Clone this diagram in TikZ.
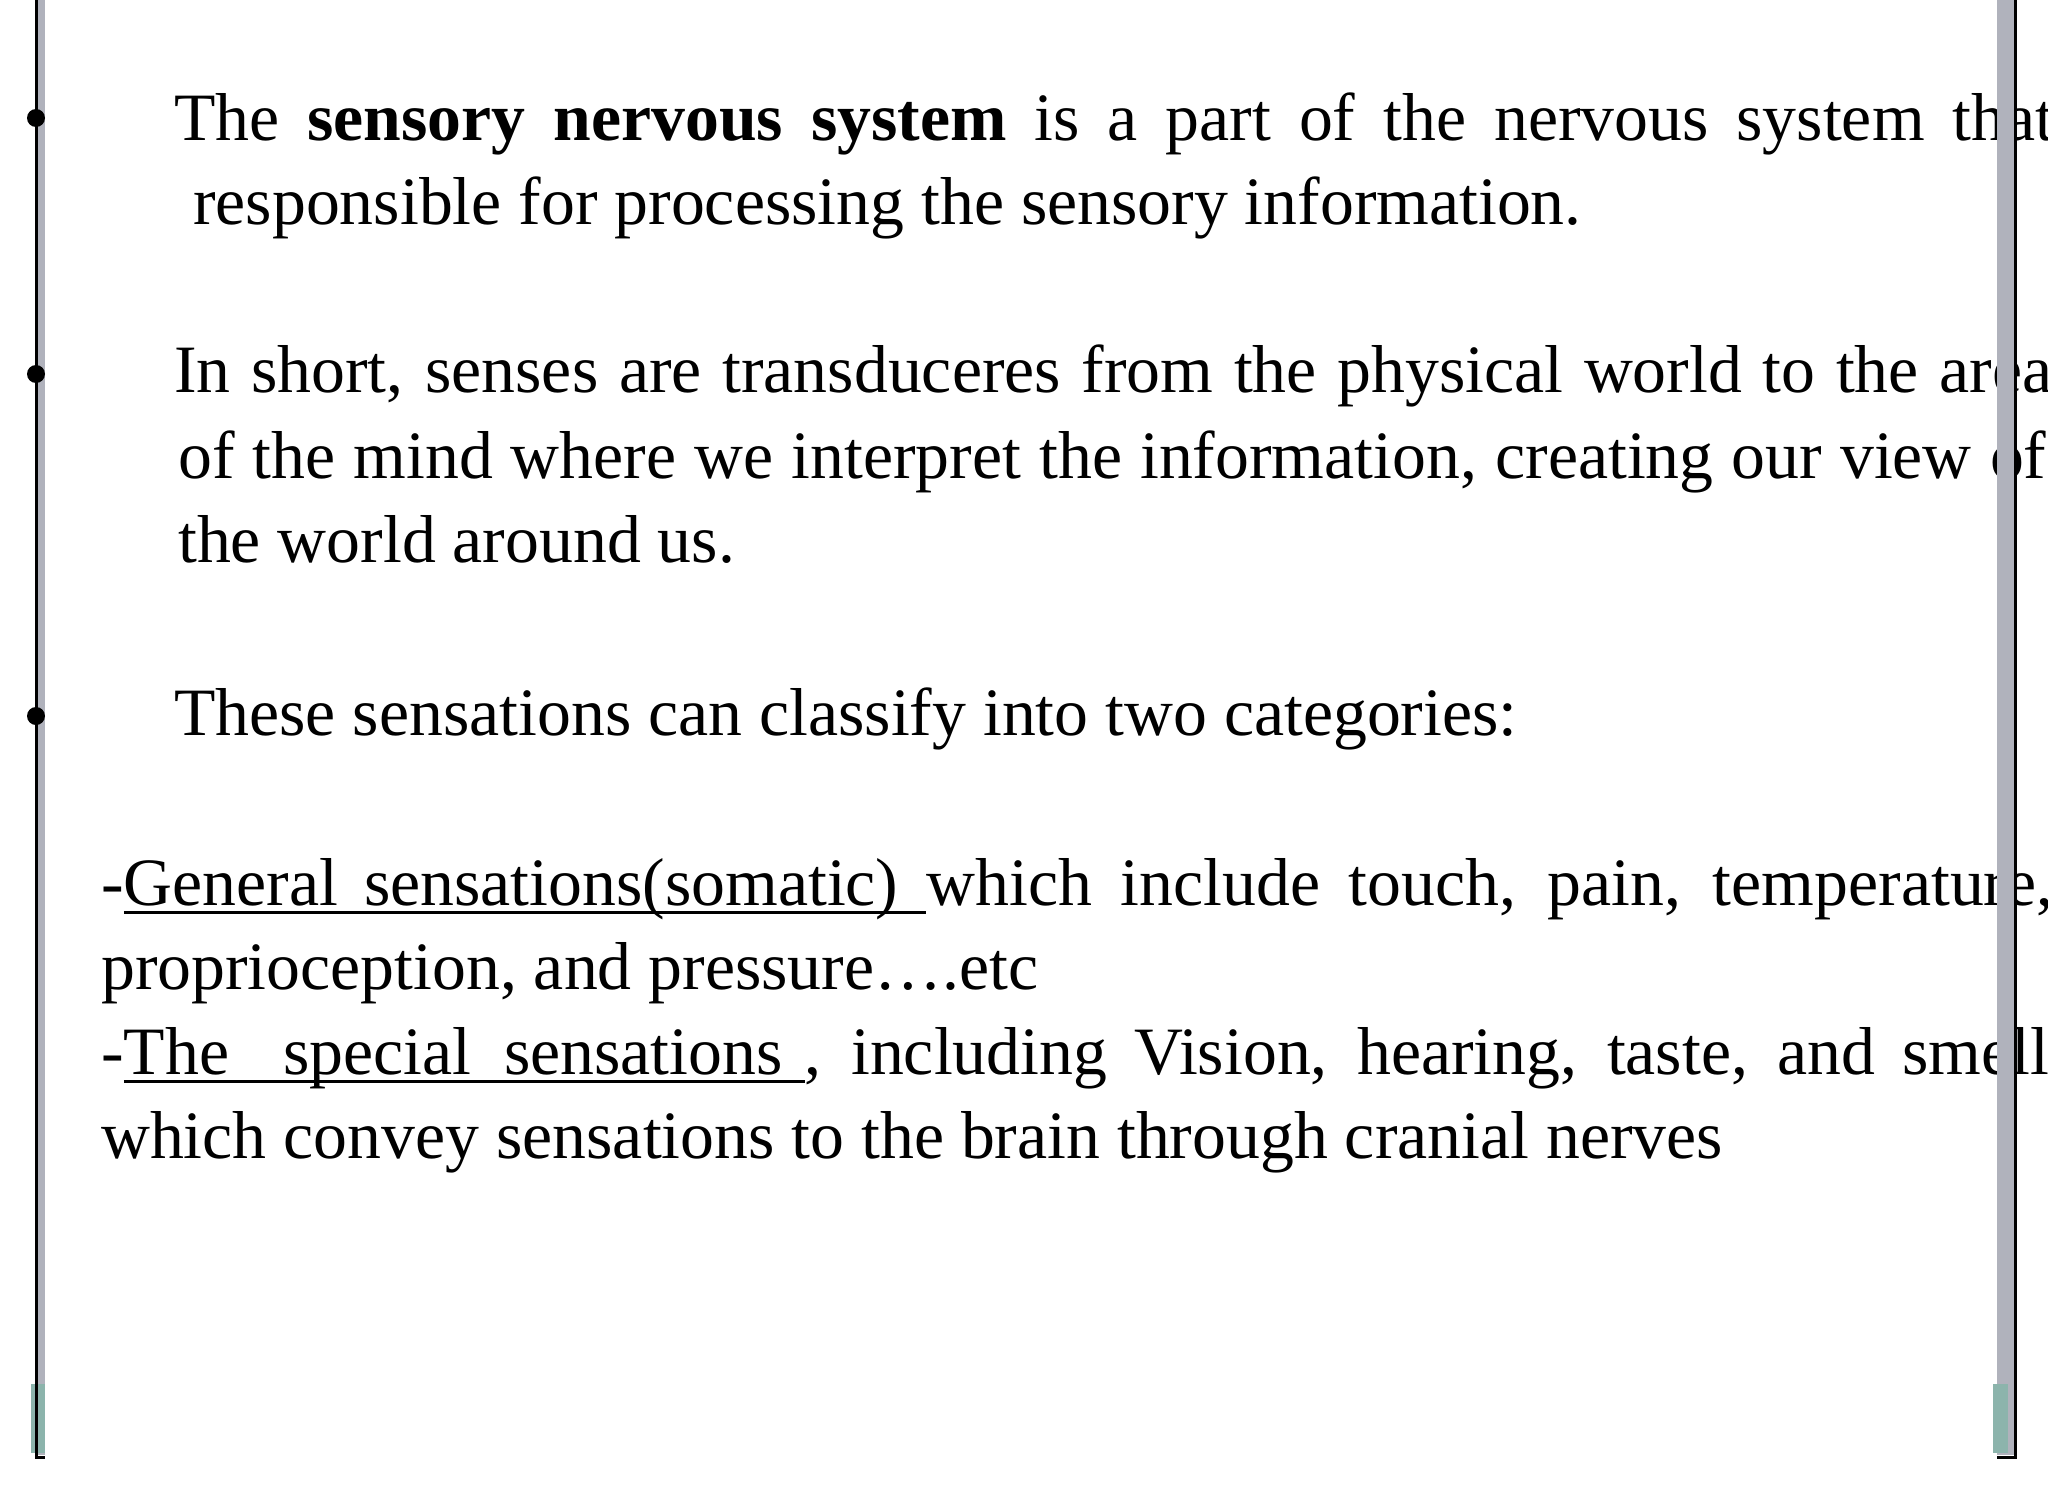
\documentclass[tikz,border=0pt]{standalone}
\usepackage{fontspec}
\setmainfont{Liberation Serif}
\definecolor{strip}{RGB}{176,178,188}
\definecolor{teal2}{RGB}{140,180,172}
\newcommand{\myul}[1]{{\setbox0\hbox{#1}\rlap{\rule[-9bp]{\wd0}{3bp}}\box0}}
\tikzset{txt/.style={anchor=base west,inner sep=0pt,font=\fontsize{68}{80}\selectfont}}
\begin{document}
\begin{tikzpicture}[x=1bp,y=-1bp]
\fill[white] (0,0) rectangle (2048,1485);
\useasboundingbox (0,0) rectangle (2048,1485);
\node[txt] (l1) at (174,141) {\makebox[1880bp][s]{The \textbf{sensory nervous system} is a part of the nervous system that}};
\node[txt] (l2) at (193,225) {responsible for processing the sensory information.};
\node[txt] (l3) at (174,392) {\makebox[1878bp][s]{In short, senses are transduceres from the physical world to the area}};
\node[txt] (l4) at (178,478) {\makebox[1868bp][s]{of the mind where we interpret the information, creating our view of}};
\node[txt] (l5) at (178,562) {the world around us.};
\node[txt] (l6) at (174,735) {These sensations can classify into two categories:};
\node[txt] (l7) at (101,905) {\makebox[1952bp][s]{-\myul{General\hspace{26bp}sensations(somatic)\hspace{28bp}}which include touch, pain, temperature,}};
\node[txt] (l8) at (101,989) {proprioception, and pressure\dots.etc};
\node[txt] (l9) at (101,1074) {\makebox[1948bp][s]{-\myul{The\hspace{54bp}special\hspace{33bp}sensations\hspace{22bp}}, including Vision, hearing, taste, and smell}};
\node[txt] (l10) at (101,1158) {which convey sensations to the brain through cranial nerves};
% borders
\fill[strip] (36,0) rectangle (45,1455);
\fill[teal2] (31,1384) rectangle (45,1453);
\draw[line width=3bp] (36,0) -- (36,1457) -- (45,1457);
\fill[strip] (1997,0) rectangle (2014,1455);
\fill[teal2] (1993,1384) rectangle (2008,1453);
\draw[line width=3bp] (1997,1457) -- (2015,1457) -- (2015,0);
\foreach \n/\yy in {b1/118,b2/374,b3/716}{\fill (36,\yy) circle (9bp);}
\end{tikzpicture}
\end{document}
